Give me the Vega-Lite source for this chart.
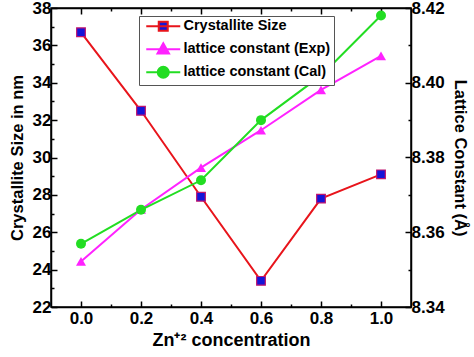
{
  "$schema": "https://vega.github.io/schema/vega-lite/v6.json",
  "width": 360,
  "height": 299,
  "autosize": "none",
  "padding": {"left": 51, "top": 8, "right": 63, "bottom": 50},
  "config": {
    "font": "Liberation Sans",
    "view": {"stroke": "black", "strokeWidth": 1.5},
    "axis": {
      "domainColor": "black",
      "domainWidth": 1.5,
      "tickColor": "black",
      "tickWidth": 1.5,
      "grid": false,
      "labelFont": "Liberation Sans",
      "labelFontWeight": "bold",
      "labelFontSize": 17,
      "labelColor": "black",
      "titleFont": "Liberation Sans",
      "titleFontWeight": "bold",
      "titleFontSize": 16.5,
      "titleColor": "black"
    }
  },
  "data": {
    "values": [
      {"x": 0.0, "series": "Crystallite Size", "v": 36.7},
      {"x": 0.2, "series": "Crystallite Size", "v": 32.5},
      {"x": 0.4, "series": "Crystallite Size", "v": 27.9},
      {"x": 0.6, "series": "Crystallite Size", "v": 23.4},
      {"x": 0.8, "series": "Crystallite Size", "v": 27.8},
      {"x": 1.0, "series": "Crystallite Size", "v": 29.1},
      {"x": 0.0, "series": "lattice constant (Exp)", "v": 8.3522},
      {"x": 0.2, "series": "lattice constant (Exp)", "v": 8.3661},
      {"x": 0.4, "series": "lattice constant (Exp)", "v": 8.3773},
      {"x": 0.6, "series": "lattice constant (Exp)", "v": 8.3873},
      {"x": 0.8, "series": "lattice constant (Exp)", "v": 8.3981},
      {"x": 1.0, "series": "lattice constant (Exp)", "v": 8.4072},
      {"x": 0.0, "series": "lattice constant (Cal)", "v": 8.3569},
      {"x": 0.2, "series": "lattice constant (Cal)", "v": 8.366},
      {"x": 0.4, "series": "lattice constant (Cal)", "v": 8.3739},
      {"x": 0.6, "series": "lattice constant (Cal)", "v": 8.39},
      {"x": 0.8, "series": "lattice constant (Cal)", "v": 8.4019},
      {"x": 1.0, "series": "lattice constant (Cal)", "v": 8.418}
    ]
  },
  "layer": [
    {
      "transform": [{"filter": "datum.series === 'Crystallite Size'"}],
      "encoding": {
        "x": {
          "field": "x", "type": "quantitative",
          "scale": {"domain": [-0.1, 1.1], "nice": false, "zero": false},
          "axis": {
            "orient": "bottom",
            "title": "Zn⁺² concentration",
            "titleFontSize": 18,
            "titlePadding": 5,
            "values": [0, 0.1, 0.2, 0.3, 0.4, 0.5, 0.6, 0.7, 0.8, 0.9, 1.0],
            "labelExpr": "round(datum.value*10) % 2 === 0 ? format(datum.value, '.1f') : ''",
            "tickSize": {"condition": {"test": "round(datum.value*10) % 2 === 0", "value": -6}, "value": -3},
            "labelPadding": 9,
            "labelFlush": false
          }
        },
        "y": {
          "field": "v", "type": "quantitative",
          "scale": {"domain": [22, 38], "nice": false, "zero": false},
          "axis": {
            "orient": "left",
            "title": "Crystallite Size in nm",
            "values": [22, 23, 24, 25, 26, 27, 28, 29, 30, 31, 32, 33, 34, 35, 36, 37, 38],
            "labelExpr": "datum.value % 2 === 0 ? format(datum.value, 'd') : ''",
            "tickSize": {"condition": {"test": "datum.value % 2 === 0", "value": -6}, "value": -3},
            "labelPadding": 6,
            "labelFlush": false,
            "titlePadding": 7
          }
        }
      },
      "layer": [
        {
          "mark": {"type": "line", "strokeWidth": 2},
          "encoding": {
            "stroke": {
              "field": "series", "type": "nominal",
              "scale": {"domain": ["Crystallite Size", "lattice constant (Exp)", "lattice constant (Cal)"], "range": ["#e8141b", "#ff22ff", "#22dd22"]},
              "legend": {
                "orient": "none",
                "legendX": 88,
                "legendY": 8,
                "title": null,
                "labelFont": "Liberation Sans",
                "labelFontWeight": "bold",
                "labelFontSize": 14.5,
                "labelColor": "black",
                "labelOffset": 27,
                "symbolSize": 100,
                "symbolStrokeWidth": 2,
                "rowPadding": 4,
                "strokeColor": "#555555",
                "fillColor": "white",
                "padding": 3,
                "encode": {
                  "symbols": {
                    "update": {
                      "shape": {"signal": "datum.value === 'Crystallite Size' ? 'M-0.6,0H6.2M1.9,-0.9H3.7V0.9H1.9Z' : datum.value === 'lattice constant (Exp)' ? 'M-0.6,0H6.2M2.8,-1.2L3.95,0.85L1.65,0.85Z' : 'M-0.6,0H6.2M3.9,0A1.1,1.1 0 1,1 1.7,0A1.1,1.1 0 1,1 3.9,0Z'"},
                      "fill": {"signal": "datum.value === 'Crystallite Size' ? '#1414d8' : datum.value === 'lattice constant (Exp)' ? '#ff22ff' : '#22dd22'"},
                      "stroke": {"signal": "datum.value === 'Crystallite Size' ? '#e8141b' : datum.value === 'lattice constant (Exp)' ? '#ff22ff' : '#22dd22'"},
                      "strokeWidth": {"value": 2}
                    }
                  }
                }
              }
            }
          }
        },
        {
          "mark": {"type": "point", "filled": true, "size": 75, "strokeWidth": 1.2, "opacity": 1},
          "encoding": {
            "fill": {"value": "#1414d8"},
            "stroke": {"value": "#c0146e"},
            "shape": {"value": "square"}
          }
        }
      ]
    },
    {
      "transform": [{"filter": "datum.series !== 'Crystallite Size'"}],
      "encoding": {
        "x": {
          "field": "x", "type": "quantitative",
          "scale": {"domain": [-0.1, 1.1], "nice": false, "zero": false},
          "axis": {
            "orient": "top",
            "title": null,
            "labels": false,
            "values": [0, 0.1, 0.2, 0.3, 0.4, 0.5, 0.6, 0.7, 0.8, 0.9, 1.0],
            "tickSize": {"condition": {"test": "round(datum.value*10) % 2 === 0", "value": -6}, "value": -3}
          }
        },
        "y": {
          "field": "v", "type": "quantitative",
          "scale": {"domain": [8.34, 8.42], "nice": false, "zero": false},
          "axis": {
            "orient": "right",
            "title": "Lattice Constant (Å)",
            "values": [8.34, 8.35, 8.36, 8.37, 8.38, 8.39, 8.4, 8.41, 8.42],
            "labelExpr": "round(datum.value*100) % 2 === 0 ? format(datum.value, '.2f') : ''",
            "tickSize": {"condition": {"test": "round(datum.value*100) % 2 === 0", "value": -6}, "value": -3},
            "labelPadding": 6,
            "labelFlush": false,
            "titlePadding": 7
          }
        }
      },
      "layer": [
        {
          "mark": {"type": "line", "strokeWidth": 2},
          "encoding": {
            "stroke": {"field": "series", "type": "nominal", "legend": null}
          }
        },
        {
          "mark": {"type": "point", "filled": true, "size": 100, "opacity": 1},
          "encoding": {
            "fill": {"field": "series", "type": "nominal", "legend": null,
              "scale": {"domain": ["lattice constant (Exp)", "lattice constant (Cal)"], "range": ["#ff22ff", "#22dd22"]}},
            "shape": {"field": "series", "type": "nominal", "legend": null,
              "scale": {"domain": ["lattice constant (Exp)", "lattice constant (Cal)"], "range": ["triangle-up", "circle"]}}
          }
        }
      ]
    }
  ],
  "resolve": {"scale": {"y": "independent"}, "axis": {"x": "independent", "y": "independent"}}
}
